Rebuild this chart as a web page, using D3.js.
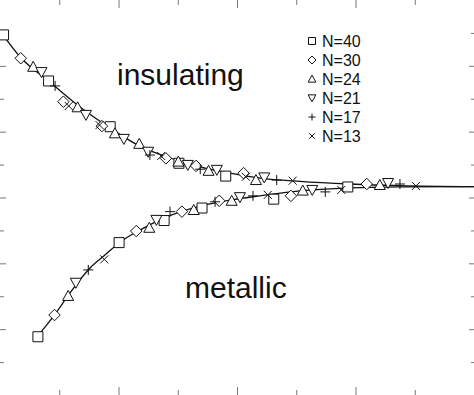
<!DOCTYPE html>
<html>
<head>
  <script src="https://d3js.org/d3.v7.min.js"></script>
  <style>
    body { margin: 0; background: #fff; }
    text { font-family: "Liberation Sans", Arial, sans-serif; }
  </style>
</head>
<body>
  <div id="chart"></div>
  <script>
    // series, [x, y] in plot units
    var sizes = ["N=40", "N=30", "N=24", "N=21", "N=17", "N=13"];

    var insN40 = [[0.06, 4.94], [0.82, 3.54], [1.86, 2.15], [3.02, 1.04], [3.81, 0.65]];
    var insN30 = [[0.35, 4.23], [1.07, 2.91], [1.72, 2.17], [2.80, 1.19], [3.31, 0.96], [4.11, 0.74], [6.19, 0.41]];
    var insN24 = [[0.56, 3.97], [1.31, 2.74], [1.94, 1.95], [2.35, 1.63], [3.01, 1.09], [3.52, 0.81], [4.32, 0.53], [6.41, 0.38]];
    var insN21 = [[0.70, 3.81], [1.45, 2.51], [2.09, 1.78], [2.50, 1.39], [3.17, 0.99], [3.66, 0.84], [4.46, 0.61], [6.55, 0.44]];
    var insN17 = [[0.93, 3.39], [2.53, 1.29], [3.38, 0.86], [4.67, 0.53], [6.75, 0.41]];
    var insN13 = [[1.16, 2.78], [1.68, 2.20], [2.72, 1.26], [4.15, 0.63], [4.94, 0.51], [7.02, 0.35]];

    var metN40 = [[0.64, -4.23], [2.01, -1.37], [2.77, -0.70], [3.41, -0.32], [4.62, -0.05], [5.87, 0.32]];
    var metN30 = [[0.92, -3.57], [2.30, -1.02], [3.07, -0.43], [3.70, -0.10], [4.91, 0.05]];
    var metN24 = [[1.15, -2.99], [2.52, -0.92], [3.27, -0.38], [3.91, -0.10], [5.11, 0.21]];
    var metN21 = [[1.28, -2.59], [2.64, -0.68], [4.05, 0.01], [5.27, 0.23]];
    var metN17 = [[1.49, -2.20], [2.87, -0.43], [3.63, -0.13], [4.27, 0.05], [5.49, 0.17]];
    var metN13 = [[1.76, -1.88], [4.52, 0.08], [5.76, 0.23]];

    var insCurve = [[0, 5.06], [0.34, 4.27], [0.84, 3.51], [1.35, 2.75], [1.86, 2.11], [2.36, 1.56], [2.87, 1.20],
      [3.38, 0.93], [3.88, 0.74], [4.39, 0.59], [5.06, 0.49], [5.91, 0.41], [6.75, 0.36], [8.0, 0.33]];
    var metCurve = [[0.62, -4.24], [0.93, -3.54], [1.18, -2.90], [1.52, -2.14], [1.77, -1.75], [2.03, -1.35],
      [2.36, -0.99], [2.70, -0.68], [3.04, -0.44], [3.38, -0.26], [3.88, -0.08], [4.39, 0.05], [5.06, 0.20],
      [5.91, 0.29], [6.75, 0.32], [8.0, 0.33]];

    var xMajor = [2, 4, 6], xMinor = [1, 3, 5, 7];
    var yMajor = [-4, -2, 0, 2, 4], yMinor = [-5, -3, -1, 1, 3, 5];

    var width = 474, height = 395;

    var x = d3.scaleLinear().domain([0, 8]).range([0, width]);
    var y = d3.scaleLinear().domain([-6, 6]).range([height, 0]);

    var svg = d3.select("#chart").append("svg")
      .attr("width", width)
      .attr("height", height);

    // ticks on all four edges, pointing inward
    function ticks(axis, tr, vals, len) {
      var g = svg.append("g").attr("transform", tr)
        .call(axis.tickValues(vals).tickSize(len).tickFormat(""));
      g.select(".domain").remove();
      g.selectAll("line").attr("stroke", "#777").attr("stroke-width", 1);
    }
    ticks(d3.axisBottom(x), "translate(0,0)", xMajor, 8);
    ticks(d3.axisBottom(x), "translate(0,0)", xMinor, 5);
    ticks(d3.axisTop(x), "translate(0," + height + ")", xMajor, 8);
    ticks(d3.axisTop(x), "translate(0," + height + ")", xMinor, 5);
    ticks(d3.axisRight(y), "translate(0,0)", yMajor, 6);
    ticks(d3.axisRight(y), "translate(0,0)", yMinor, 4);
    ticks(d3.axisLeft(y), "translate(" + width + ",0)", yMajor, 5);
    ticks(d3.axisLeft(y), "translate(" + width + ",0)", yMinor, 3);

    var line = d3.line()
      .x(function(d) { return x(d[0]); })
      .y(function(d) { return y(d[1]); })
      .curve(d3.curveMonotoneX);

    [insCurve, metCurve].forEach(function(c) {
      svg.append("path").attr("d", line(c))
        .attr("fill", "none").attr("stroke", "#111").attr("stroke-width", 1.3);
    });

    // marker shapes, r = half size
    function marker(k, r) {
      if (k == 0) return "M" + (-r) + "," + (-r) + "h" + 2 * r + "v" + 2 * r + "h" + (-2 * r) + "Z";
      if (k == 1) return "M0," + (-r * 1.15) + "L" + r * 1.15 + ",0L0," + r * 1.15 + "L" + (-r * 1.15) + ",0Z";
      if (k == 2) return "M0," + (-r * 1.1) + "L" + r * 1.1 + "," + r * 0.9 + "L" + (-r * 1.1) + "," + r * 0.9 + "Z";
      if (k == 3) return "M0," + r * 1.1 + "L" + r * 1.1 + "," + (-r * 0.9) + "L" + (-r * 1.1) + "," + (-r * 0.9) + "Z";
      if (k == 4) return "M" + (-r) + ",0h" + 2 * r + "M0," + (-r) + "v" + 2 * r;
      return "M" + (-r * 0.8) + "," + (-r * 0.8) + "L" + r * 0.8 + "," + r * 0.8 + "M" + (-r * 0.8) + "," + r * 0.8 + "L" + r * 0.8 + "," + (-r * 0.8);
    }

    var groups = [
      insN40.concat(metN40), insN30.concat(metN30), insN24.concat(metN24),
      insN21.concat(metN21), insN17.concat(metN17), insN13.concat(metN13)
    ];

    groups.forEach(function(pts, k) {
      svg.append("g").selectAll("path")
        .data(pts)
        .enter().append("path")
        .attr("transform", function(d) { return "translate(" + x(d[0]) + "," + y(d[1]) + ")"; })
        .attr("d", marker(k, 5))
        .attr("fill", k < 4 ? "#fff" : "none")
        .attr("stroke", "#111")
        .attr("stroke-width", 1);
    });

    // legend
    var leg = svg.append("g").attr("transform", "translate(312,41)");
    sizes.forEach(function(s, k) {
      var row = leg.append("g").attr("transform", "translate(0," + k * 19 + ")");
      row.append("path").attr("d", marker(k, 3.5))
        .attr("fill", "none").attr("stroke", "#111").attr("stroke-width", 1);
      row.append("text").attr("x", 10).attr("y", 6)
        .attr("font-size", 16).attr("fill", "#111").text(s);
    });

    svg.append("text").attr("x", 117).attr("y", 85)
      .attr("font-size", 30).attr("fill", "#111").text("insulating");
    svg.append("text").attr("x", 185).attr("y", 298)
      .attr("font-size", 30).attr("fill", "#111").text("metallic");
  </script>
</body>
</html>
